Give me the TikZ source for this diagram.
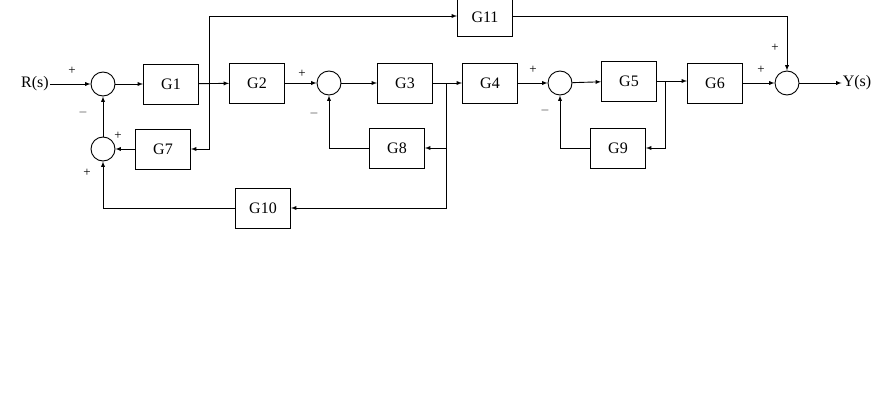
\documentclass[tikz,border=0pt]{standalone}
\usepackage{fontspec}
\setmainfont{Liberation Serif}
\begin{document}
\begin{tikzpicture}[x=1pt,y=-1pt,
  blk/.style={draw,line width=0.9pt,minimum width=55pt,minimum height=40pt,inner sep=0pt,font=\fontsize{16}{18}\selectfont},
  sum/.style={draw,circle,line width=0.9pt,minimum size=24pt,inner sep=0pt},
  sg/.style={font=\fontsize{13}{14}\selectfont,inner sep=0pt},
  lbl/.style={font=\fontsize{16}{18}\selectfont,inner sep=1pt},
  ar/.style={->,>=latex,line width=0.9pt},
  ln/.style={line width=0.9pt}]
\useasboundingbox (0,0) rectangle (891,415);
\node[lbl] (R) at (35,84) {R(s)};
\node[sum] (s1) at (103,84) {};
\node[blk] (G1) at (171,84) {G1};
\node[blk] (G2) at (257,83) {G2};
\node[sum] (s2) at (329,83) {};
\node[blk] (G3) at (405,83) {G3};
\node[blk] (G4) at (490,83) {G4};
\node[sum] (s4) at (560,83) {};
\node[blk] (G5) at (629,81) {G5};
\node[blk] (G6) at (715,83) {G6};
\node[sum] (s5) at (787,83) {};
\node[lbl] (Y) at (857,83) {Y(s)};
\node[blk,minimum height=38pt] (G11) at (485,17) {G11};
\node[sum] (s3) at (103,149) {};
\node[blk] (G7) at (163,149) {G7};
\node[blk] (G8) at (397,148) {G8};
\node[blk] (G9) at (618,148) {G9};
\node[blk] (G10) at (263,208) {G10};
\coordinate (b1) at (209,84);
\coordinate (b3) at (446,83);
\coordinate (b5) at (665,82);
% forward path
\draw[ar] (R) -- (s1);
\draw[ar] (s1) -- (G1);
\draw[ar] (G1) -- (G2);
\draw[ar] (G2) -- (s2);
\draw[ar] (s2) -- (G3);
\draw[ar] (G3.east) -- (G4.west);
\draw[ar] (G4) -- (s4);
\draw[ar] (s4) -- (G5);
\draw[ar] (G5.east) -- (G6.west |- G5.east);
\draw[ar] (G6) -- (s5);
\draw[ar] (s5) -- (Y);
% G11 path
\draw[ar] (b1) |- (G11.west |- 0,16);
\draw[ar] (G11.east |- 0,16) -| (s5);
% G7 loop
\draw[ar] (b1) |- (G7);
\draw[ar] (G7) -- (s3);
\draw[ar] (s3) -- (s1);
% G8 loop
\draw[ar] (b3) |- (G8);
\draw[ar] (G8) -| (s2);
% G10
\draw[ar] (b3) |- (G10);
\draw[ar] (G10) -| (s3);
% G9 loop
\draw[ar] (b5) |- (G9);
\draw[ar] (G9) -| (s4);
% signs
\node[sg] at (72,71) {+};
\node[sg] at (83,112) {$-$};
\node[sg] at (118,136) {+};
\node[sg] at (87,173) {+};
\node[sg] at (302,74) {+};
\node[sg] at (314,113) {$-$};
\node[sg] at (533,70) {+};
\node[sg] at (545,110) {$-$};
\node[sg] at (761,70) {+};
\node[sg] at (775,48) {+};
\end{tikzpicture}
\end{document}
